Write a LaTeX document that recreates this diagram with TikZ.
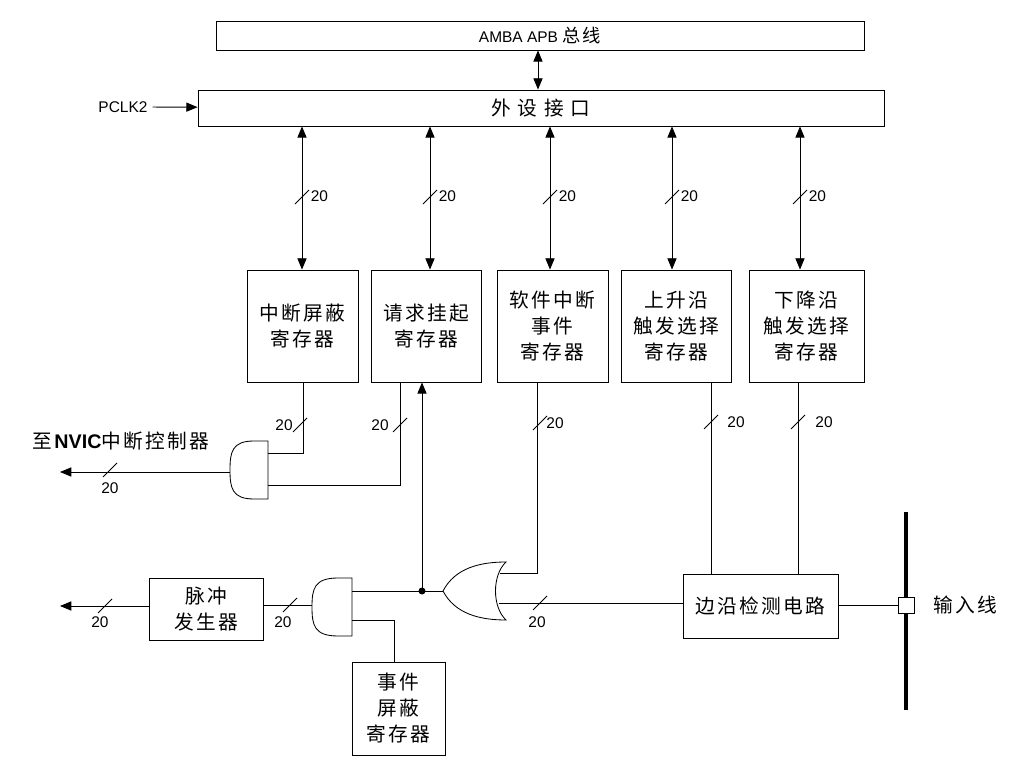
\documentclass[tikz,border=0pt]{standalone}
\usepackage{fontspec}
\setmainfont{Liberation Sans}
\newfontfamily\cjk{Noto Sans CJK SC}[LetterSpace=12]
\usetikzlibrary{arrows.meta}
\tikzset{every picture/.style={line width=0.6pt}}

\newcommand{\buswidth}[1]{\draw (#1) +(-7,7) -- +(7,-7);}

\begin{document}
\begin{tikzpicture}[x=0.025cm,y=-0.025cm,>={Triangle[length=8pt,width=6.5pt]},
        reg/.style={draw,rectangle,align=center,font=\cjk\fontsize{14}{18.5}\selectfont},
        num/.style={font=\fontsize{11}{13}\selectfont,inner sep=1pt}]
        \useasboundingbox (0,0) rectangle (1028,761);

        % buses
        \node[draw,minimum width=648*0.025cm,minimum height=29*0.025cm,font=\fontsize{11}{13}\selectfont] (amba) at (540,35.5) {AMBA APB {\cjk\fontsize{13}{15}\selectfont 总线}};
        \node[draw,minimum width=686*0.025cm,minimum height=36*0.025cm,font=\cjk\fontsize{14}{16}\selectfont] (pif) at (541,108) {外\ 设\ 接\ 口};
        \node[font=\fontsize{11}{13}\selectfont] (pclk) at (123,107) {PCLK2};
        \draw[->] (pclk) -- (pif);
        \draw[<->] (538,0 |- amba.south) -- (538,0 |- pif.north);

        % registers
        \node[reg,minimum width=111*0.025cm,minimum height=112*0.025cm] (imr) at (302.5,326) {中断屏蔽\\寄存器};
        \node[reg,minimum width=110*0.025cm,minimum height=112*0.025cm] (pr) at (426,326) {请求挂起\\寄存器};
        \node[reg,minimum width=111*0.025cm,minimum height=112*0.025cm] (swier) at (552.5,326) {软件中断\\事件\\寄存器};
        \node[reg,minimum width=110*0.025cm,minimum height=112*0.025cm] (rtsr) at (676,326) {上升沿\\触发选择\\寄存器};
        \node[reg,minimum width=115*0.025cm,minimum height=112*0.025cm] (ftsr) at (806.5,326) {下降沿\\触发选择\\寄存器};
        \foreach \r/\x in {imr/302,pr/430,swier/550,rtsr/672,ftsr/800} {
            \draw[<->] (\x,0 |- \r.north) -- (\x,0 |- pif.south);
            \buswidth{\x,197}
            \node[num,anchor=west] at (\x+7,196) {20};
        }

        % gates
        \draw (268,441) -- (254,441) .. controls (232,441) and (230,452) .. (230,470)
            .. controls (230,488) and (232,499) .. (254,499) -- (268,499) -- cycle;
        \coordinate (g1o) at (230,472);
        \draw (352,578) -- (338,578) .. controls (314,578) and (312,589) .. (312,607)
            .. controls (312,625) and (314,636) .. (338,636) -- (352,636) -- cycle;
        \coordinate (g2o) at (312,605);
        \draw (443,591) .. controls (455,568) and (480,562) .. (506,562)
            .. controls (492,575) and (492,607) .. (506,620)
            .. controls (480,620) and (455,614) .. (443,591);
        \coordinate (oro) at (443,591);

        % other blocks
        \node[reg,minimum width=114*0.025cm,minimum height=62*0.025cm] (pulse) at (206,609) {脉冲\\发生器};
        \node[reg,minimum width=93*0.025cm,minimum height=93*0.025cm] (emr) at (398.5,708.5) {事件\\屏蔽\\寄存器};
        \node[reg,minimum width=155*0.025cm,minimum height=64*0.025cm] (edge) at (760.5,606) {边沿检测电路};
        \coordinate (lt) at (906,512);
        \coordinate (lb) at (906,710);
        \draw[line width=3pt] (lt) -- (lb);
        \node[draw,fill=white,minimum size=16*0.025cm,inner sep=0pt] (pin) at (906,605) {};
        \node[font=\cjk\fontsize{14}{16}\selectfont] (inl) at (965,605) {输入线};
        \node[font=\cjk\fontsize{14}{16}\selectfont,anchor=west,inner sep=0pt] (nvic) at (32,441) {至\textbf{\fontspec{Liberation Sans}NVIC}中断控制器};

        % wiring
        \coordinate (dot) at (422,591);
        \coordinate (nvico) at (60,472);
        \coordinate (pulseo) at (60,606);
        \draw (303,0 |- imr.south) -- (303,453) -- (268,453);
        \draw (400,0 |- pr.south) -- (400,485) -- (268,485);
        \draw[->] (g1o) -- (nvico);
        \draw (oro) -- (352,591);
        \draw[->] (dot) -- (422,0 |- pr.south);
        \fill (dot) circle (3.5);
        \draw (537,0 |- swier.south) -- (537,573) -- (500,573);
        \draw (edge.west |- 0,603) -- (499,603);
        \draw (g2o) -- (pulse.east |- g2o);
        \draw[->] (pulse.west |- 0,606) -- (pulseo);
        \draw (352,620) -- (394,620) -- (394,0 |- emr.north);
        \draw (711,0 |- rtsr.south) -- (711,0 |- edge.north);
        \draw (798,0 |- ftsr.south) -- (798,0 |- edge.north);
        \draw (edge.east |- pin) -- (pin);

        % bus widths
        \buswidth{300,425} \node[num] at (284,425) {20};
        \buswidth{400,425} \node[num] at (380,425) {20};
        \buswidth{110,470} \node[num] at (110,488) {20};
        \buswidth{540,423} \node[num] at (555,423) {20};
        \buswidth{711,422} \node[num] at (736,422) {20};
        \buswidth{798,422} \node[num] at (824,422) {20};
        \buswidth{540,603} \node[num] at (537,622) {20};
        \buswidth{290,605} \node[num] at (283,622) {20};
        \buswidth{105,606} \node[num] at (100,622) {20};
    \end{tikzpicture}
\end{document}
